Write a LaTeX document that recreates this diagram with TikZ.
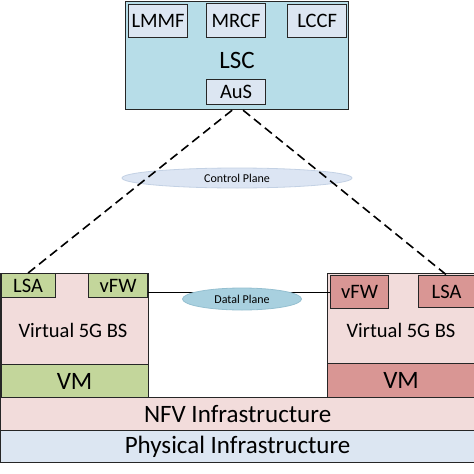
\documentclass[tikz,border=0pt]{standalone}
\usepackage{fontspec}
\setmainfont{Carlito}
\usepackage{tikz}
\usetikzlibrary{calc,positioning,shapes.geometric}
\definecolor{lscblue} {HTML}{B7DDE8}
\definecolor{fnsurf}  {HTML}{DCE6F2}
\definecolor{bsgreen} {HTML}{C3D69B}
\definecolor{bspink}  {HTML}{F2DCDB}
\definecolor{bsred}   {HTML}{D99694}
\definecolor{cpfill}  {HTML}{DCE5F3}
\definecolor{cpedge}  {HTML}{C3D1E4}
\definecolor{dpfill}  {HTML}{A8D0DF}
\definecolor{dpedge}  {HTML}{94BFD0}

\begin{document}
\begin{tikzpicture}[x=1pt, y=-1pt,
    box/.style={draw=black!85, line width=1.2pt, inner sep=0pt, anchor=north west},
    big/.style={font=\fontsize{25}{29}\selectfont},
    mid/.style={font=\fontsize{20.5}{24}\selectfont},
    small/.style={font=\fontsize{12}{14}\selectfont}]
  \useasboundingbox (0,0) rectangle (474,474);
  % controller
  \node[box, fill=lscblue, minimum width=223, minimum height=108] (lsc) at (125,1) {};
  \node[box, fill=fnsurf, minimum width=59, minimum height=33, mid] (lmmf) at (128,4) {LMMF};
  \node[box, fill=fnsurf, minimum width=59, minimum height=34, mid] (mrcf) at (206,3) {MRCF};
  \node[box, fill=fnsurf, minimum width=59, minimum height=33, mid] (lccf) at (287,4) {LCCF};
  \node[big] (lsctext) at (237,60) {LSC};
  \node[box, fill=fnsurf, minimum width=59, minimum height=25, mid] (aus) at (206,79) {AuS};
  % infrastructure
  \node[box, fill=bspink, minimum width=474, minimum height=33, big] (nfv) at (0,397) {NFV Infrastructure};
  \node[box, fill=fnsurf, minimum width=474, minimum height=32, big] (phy) at (0,430) {Physical Infrastructure};
  % left base station
  \node[box, fill=bspink, minimum width=147, minimum height=91] (bsL) at (0.5,273) {};
  \node[box, fill=bsgreen, minimum width=54, minimum height=24, mid] (lsaL) at (0.5,273) {LSA};
  \node[box, fill=bsgreen, minimum width=59, minimum height=24, mid] (vfwL) at (88,273) {vFW};
  \node[mid] (bsLtext) at (73,330) {Virtual 5G BS};
  \node[box, fill=bsgreen, minimum width=147, minimum height=33, big] (vmL) at (0.5,364) {VM};
  % right base station
  \node[box, fill=bspink, minimum width=147, minimum height=90] (bsR) at (327,273) {};
  \node[box, fill=bsred, minimum width=58, minimum height=33, mid] (vfwR) at (330,275) {vFW};
  \node[box, fill=bsred, minimum width=56, minimum height=32, mid] (lsaR) at (418,275) {LSA};
  \node[mid] (bsRtext) at (401,330) {Virtual 5G BS};
  \node[box, fill=bsred, minimum width=147, minimum height=34, big] (vmR) at (327,363) {VM};
  % planes
  \node[ellipse, fill=cpfill, draw=cpedge, line width=0.8pt, minimum width=230, minimum height=20,
        inner sep=0pt, small] (cplane) at (237,178) {Control Plane};
  \draw[line width=1.6pt, dash pattern=on 9pt off 5pt] ([xshift=-5]lsc.south) -- (lsaL.north);
  \draw[line width=1.6pt, dash pattern=on 9pt off 5pt] ([xshift=6]lsc.south) -- (lsaR.north);
  \draw[line width=1.2pt] (vfwR.west) -- (vfwR.west -| vfwL.east);
  \node[ellipse, fill=dpfill, draw=dpedge, line width=0.8pt, minimum width=119, minimum height=22,
        inner sep=0pt, small] (dplane) at (242,299) {Datal Plane};
\end{tikzpicture}
\end{document}
